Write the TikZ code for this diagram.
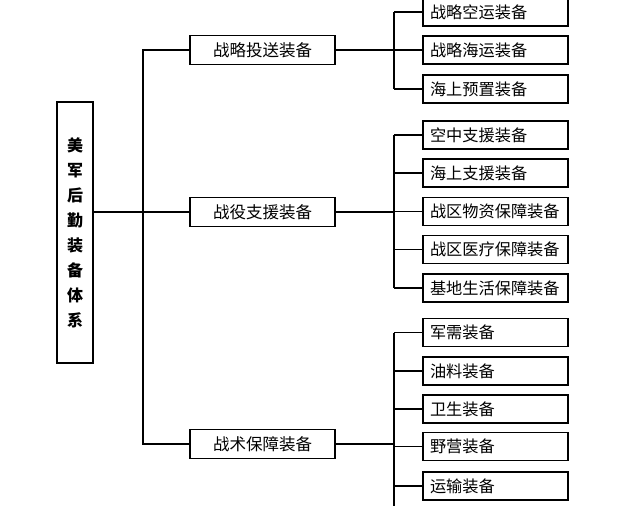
\documentclass[tikz,border=0pt]{standalone}
\usepackage{fontspec}
\newfontfamily\cjk{Noto Sans CJK SC}
\begin{document}
\begin{tikzpicture}[x=1pt,y=-1pt,
  box/.style={draw=black,line width=1.3pt,inner sep=0pt},
  midbox/.style={box,minimum width=145,minimum height=29,font=\cjk\fontsize{16.5}{16.5}\selectfont},
  leafbox/.style={box,text width=131,inner xsep=7pt,minimum height=28,align=left,font=\cjk\fontsize{16.2}{16.2}\selectfont},
  rootbox/.style={box,minimum width=36,minimum height=261,align=center,font=\cjk\bfseries\fontsize{16}{25}\selectfont},
  conn/.style={line width=1.1pt,draw=black}]
\useasboundingbox (0,0) rectangle (640,506);
% root
\node[rootbox] (root) at (75,232.5) {美\\军\\后\\勤\\装\\备\\体\\系};
% mid level
\node[midbox] (m1) at (262.5,50) {战略投送装备};
\node[midbox] (m2) at (262.5,212) {战役支援装备};
\node[midbox] (m3) at (262.5,444) {战术保障装备};
% leaves
\node[leafbox] (a1) at (495.5,12) {战略空运装备};
\node[leafbox] (a2) at (495.5,50) {战略海运装备};
\node[leafbox] (a3) at (495.5,89) {海上预置装备};
\node[leafbox] (b1) at (495.5,135) {空中支援装备};
\node[leafbox] (b2) at (495.5,173) {海上支援装备};
\node[leafbox] (b3) at (495.5,211.5) {战区物资保障装备};
\node[leafbox] (b4) at (495.5,249.5) {战区医疗保障装备};
\node[leafbox] (b5) at (495.5,288) {基地生活保障装备};
\node[leafbox] (c1) at (495.5,332.5) {军需装备};
\node[leafbox] (c2) at (495.5,371) {油料装备};
\node[leafbox] (c3) at (495.5,409) {卫生装备};
\node[leafbox] (c4) at (495.5,446.5) {野营装备};
\node[leafbox] (c5) at (495.5,486) {运输装备};
% junction coordinates
\coordinate (t) at (143,0);
\coordinate (j) at (394,0);
\coordinate (cend) at (394,510);
% root to trunk
\draw[conn] (root.east |- m2.west) -- (m2.west);
% trunk
\draw[conn] (m1.west) -- (m1.west -| t) -- (m3.west -| t) -- (m3.west);
% group 1
\draw[conn] (m1.east) -- (m1.east -| j);
\draw[conn] (a1.west -| j) -- (a3.west -| j);
\foreach \n in {a1,a2,a3} \draw[conn] (\n.west) -- (\n.west -| j);
% group 2
\draw[conn] (m2.east) -- (m2.east -| j);
\draw[conn] (b1.west -| j) -- (b5.west -| j);
\foreach \n in {b1,b2,b3,b4,b5} \draw[conn] (\n.west) -- (\n.west -| j);
% group 3
\draw[conn] (m3.east) -- (m3.east -| j);
\draw[conn] (c1.west -| j) -- (cend);
\foreach \n in {c1,c2,c3,c4,c5} \draw[conn] (\n.west) -- (\n.west -| j);
\end{tikzpicture}
\end{document}
